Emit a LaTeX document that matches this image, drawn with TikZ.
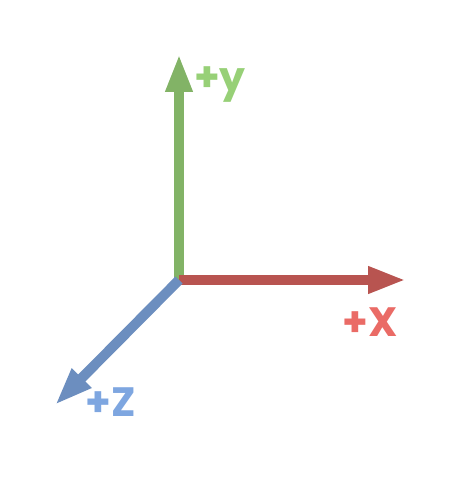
\documentclass[tikz,border=0pt]{standalone}
\usepackage{fontspec}
\setmainfont{Poppins}
\usetikzlibrary{arrows.meta, positioning}
\usepackage{xcolor}
\definecolor{xline}{HTML}{B85450}
\definecolor{xtext}{HTML}{EA6B66}
\definecolor{yline}{HTML}{82B366}
\definecolor{ytext}{HTML}{97D077}
\definecolor{zline}{HTML}{6C8EBF}
\definecolor{ztext}{HTML}{7EA6E0}

\begin{document}
\begin{tikzpicture}[x=1pt, y=1pt,
  axis/.style={draw=#1, line width=10pt, -{Triangle[length=38pt, width=25pt, fill=#1]}},
  axislabel/.style={text=#1, font=\fontsize{41}{41}\selectfont\bfseries, inner sep=0pt}]
  \useasboundingbox (0,0) rectangle (460,480);
  \coordinate (o) at (179,200);
  \coordinate (ytip) at (179,426);
  \coordinate (xtip) at (406,200);
  \coordinate (ztip) at (55,75);
  \draw[axis=yline] (o) -- (ytip);
  \draw[axis=xline] (o) -- (xtip);
  \draw[axis=zline] (o) -- (ztip);
  \node[axislabel=ytext] (ylabel) at (220,395) {+y};
  \node[axislabel=xtext] (xlabel) at (370,158) {+X};
  \node[axislabel=ztext] (zlabel) at (111,78) {+Z};
\end{tikzpicture}
\end{document}
